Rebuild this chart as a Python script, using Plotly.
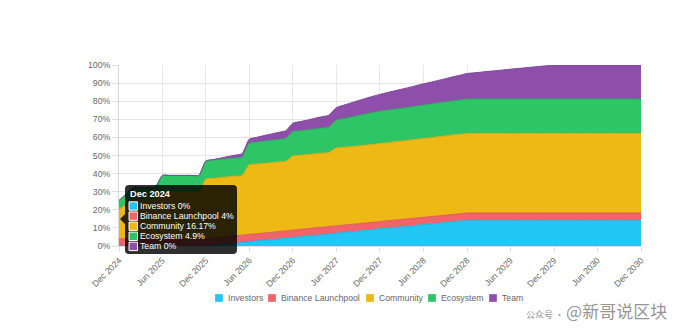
import pandas as pd
import plotly.graph_objects as go

# ---------------- data (percent of total supply, monthly Dec 2024 .. Dec 2030) ----------------
months = pd.date_range("2024-12-01", "2030-12-01", freq="MS")

investors = [0]*13 + [
    0.39, 0.79, 1.18, 1.58, 1.97, 2.37, 2.76, 3.16, 3.55, 3.94, 4.34, 4.73,
    5.13, 5.52, 5.92, 6.31, 6.71, 7.10, 7.49, 7.89, 8.28, 8.68, 9.07, 9.47,
    9.86, 10.26, 10.65, 11.04, 11.44, 11.83, 12.23, 12.62, 13.02, 13.41, 13.81, 14.2,
] + [14.2]*24

binance = [4]*73

community = (
    [16.17, 19.0] + [21.5]*4 + [26.0]*6 + [33.0]*6 + [38.5]*6 + [41.0]*6 + [43.0]*6
    + [43.1, 43.2, 43.3, 43.3, 43.4, 43.5, 43.6, 43.6, 43.7, 43.8, 43.9, 43.9, 44.0]
    + [44.0]*24
)

ecosystem = (
    [4.9, 5.9] + [6.8]*4 + [9.0]*6 + [10.0]*6
    + [11.8, 12.0, 12.2, 12.3, 12.4, 12.5]
    + [13.4, 13.5, 13.6, 13.7, 13.8, 13.9]
    + [15.3, 15.8, 16.3, 16.8, 17.2, 17.6]
    + [17.8, 17.9, 18.0, 18.1, 18.2, 18.3, 18.4, 18.5, 18.6, 18.7, 18.8, 18.9, 19.0]
    + [19.0]*24
)

team = [0]*13 + [
    0.39, 0.78, 1.18, 1.57, 1.96, 2.35, 2.74, 3.13, 3.53, 3.92, 4.31, 4.70,
    5.09, 5.48, 5.88, 6.27, 6.66, 7.05, 7.44, 7.83, 8.23, 8.62, 9.01, 9.40,
    9.79, 10.18, 10.58, 10.97, 11.36, 11.75, 12.14, 12.53, 12.93, 13.32, 13.71, 14.10,
    14.49, 14.88, 15.28, 15.67, 16.06, 16.45, 16.84, 17.23, 17.63, 18.02, 18.41, 18.8,
] + [18.8]*12

series_names = ["Investors", "Binance Launchpool", "Community", "Ecosystem", "Team"]
series_values = [investors, binance, community, ecosystem, team]
fill_colors = ["#22c5f4", "#f3636a", "#efb915", "#2dc566", "#8e4fab"]
line_colors = ["#1fb3dd", "#d9585e", "#d9a812", "#27b05b", "#7d4598"]

tooltip_index = 0
tooltip_title = "Dec 2024"

# ---------------- layout geometry ----------------
W, H = 680, 334
L, R, T, B = 119, 39, 65, 88
PW, PH = W - L - R, H - T - B
FONT = "Liberation Sans, Arial, sans-serif"


def px2x(px):
    return (px - L) / PW


def py2y(py):
    return (T + PH - py) / PH


fig = go.Figure()

for name, vals, fc, lc in zip(series_names, series_values, fill_colors, line_colors):
    fig.add_trace(go.Scatter(
        x=months, y=vals, name=name, stackgroup="one", mode="lines",
        line=dict(color=lc, width=1, shape="spline", smoothing=0.6),
        fillcolor=fc, showlegend=False, hoverinfo="skip",
    ))

shapes = []
annotations = []

# ---------------- legend (compact, chart.js style) ----------------
legend_x = [215, 268, 366, 428, 489]
legend_cy = 298
for name, fc, lx in zip(series_names, fill_colors, legend_x):
    shapes.append(dict(type="rect", xref="paper", yref="paper",
                       x0=px2x(lx), x1=px2x(lx + 8), y0=py2y(legend_cy + 4), y1=py2y(legend_cy - 4),
                       fillcolor=fc, line=dict(color="rgba(255,255,255,0.6)", width=0.5)))
    annotations.append(dict(xref="paper", yref="paper", x=px2x(lx + 10.5), y=py2y(legend_cy),
                            xanchor="left", yanchor="middle", showarrow=False, text=name,
                            font=dict(family=FONT, size=8.7, color="#666666")))

# ---------------- tooltip (static, as in reference) ----------------
bx0, bx1, by0, by1, rad = 125, 237, 185, 254, 4
path = (
    f"M {px2x(bx0+rad)},{py2y(by0)} L {px2x(bx1-rad)},{py2y(by0)} "
    f"Q {px2x(bx1)},{py2y(by0)} {px2x(bx1)},{py2y(by0+rad)} "
    f"L {px2x(bx1)},{py2y(by1-rad)} Q {px2x(bx1)},{py2y(by1)} {px2x(bx1-rad)},{py2y(by1)} "
    f"L {px2x(bx0+rad)},{py2y(by1)} Q {px2x(bx0)},{py2y(by1)} {px2x(bx0)},{py2y(by1-rad)} "
    f"L {px2x(bx0)},{py2y(224)} L {px2x(120)},{py2y(219)} L {px2x(bx0)},{py2y(214)} "
    f"L {px2x(bx0)},{py2y(by0+rad)} Q {px2x(bx0)},{py2y(by0)} {px2x(bx0+rad)},{py2y(by0)} Z"
)
shapes.append(dict(type="path", xref="paper", yref="paper", path=path,
                   fillcolor="rgba(0,0,0,0.82)", line=dict(width=0), layer="above"))

annotations.append(dict(xref="paper", yref="paper", x=px2x(128), y=py2y(194),
                        xanchor="left", yanchor="middle", showarrow=False,
                        text=f"<b>{tooltip_title}</b>",
                        font=dict(family=FONT, size=9.2, color="#ffffff")))
for k, (name, vals, fc) in enumerate(zip(series_names, series_values, fill_colors)):
    cy = 206 + 10.1 * k
    shapes.append(dict(type="rect", xref="paper", yref="paper",
                       x0=px2x(129), x1=px2x(137.5), y0=py2y(cy - 4.2), y1=py2y(cy + 4.2),
                       fillcolor=fc, line=dict(color="#ffffff", width=1), layer="above"))
    annotations.append(dict(xref="paper", yref="paper", x=px2x(137.5), y=py2y(cy),
                            xanchor="left", yanchor="middle", showarrow=False,
                            text=f"{name} {vals[tooltip_index]:g}%",
                            font=dict(family=FONT, size=8.7, color="#ffffff")))

# watermark
annotations.append(dict(xref="paper", yref="paper", x=px2x(669), y=py2y(310),
                        xanchor="right", yanchor="middle", showarrow=False,
                        text="<span style='font-size:9px'>公众号 · </span>@新哥说区块",
                        font=dict(family="Noto Sans CJK SC", size=17, color="rgba(120,120,120,0.8)")))

fig.update_layout(
    template="none",
    width=W, height=H,
    margin=dict(l=L, r=R, t=T, b=B, pad=0),
    paper_bgcolor="#ffffff", plot_bgcolor="#ffffff",
    font=dict(family=FONT, size=8.7, color="#666666"),
    hovermode=False,
    showlegend=False,
    shapes=shapes,
    annotations=annotations,
)

fig.update_xaxes(
    type="date", range=[months[0], months[-1]],
    tick0=months[0], dtick="M6", tickformat="%b %Y", tickangle=-45,
    showgrid=True, gridcolor="#e6e6e6", gridwidth=1,
    ticks="outside", ticklen=5, tickcolor="#e0e0e0",
    showline=True, linecolor="#e0e0e0", zeroline=False, automargin=False,
    tickfont=dict(size=8.7, color="#666666"),
)
fig.update_yaxes(
    range=[0, 100], dtick=10, ticksuffix="%",
    showgrid=True, gridcolor="#e6e6e6", gridwidth=1,
    ticks="outside", ticklen=6, tickcolor="#e0e0e0",
    showline=True, linecolor="#d6d6d6", zeroline=False, automargin=False,
    tickfont=dict(size=8.7, color="#666666"),
)

fig.write_html("out.html")
